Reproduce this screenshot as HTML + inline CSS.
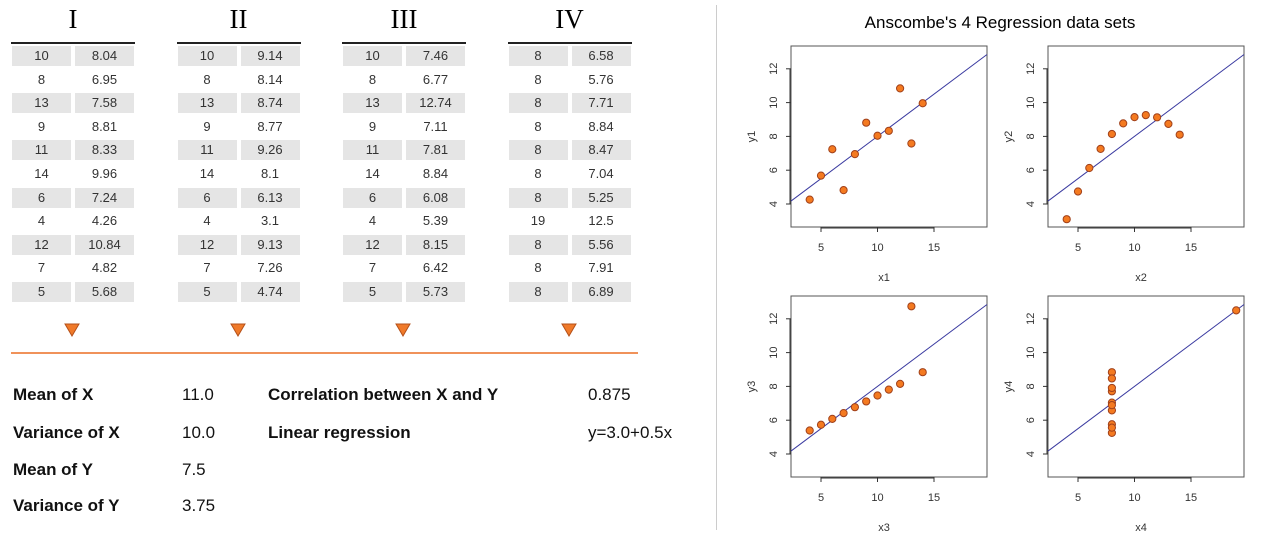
<!DOCTYPE html>
<html><head><meta charset="utf-8"><style>
body{margin:0;width:1280px;height:543px;background:#fff;position:relative;overflow:hidden;font-family:"Liberation Sans",sans-serif}
.abs{position:absolute}
.rn{font-family:"Liberation Serif",serif;font-size:27px;width:124px;text-align:center;top:4px}
.hl{height:2px;background:#222;top:42px}
.cell{height:20px;line-height:20px;font-size:13px;color:#333;text-align:center}
.st{font-size:17px;color:#111}
.b{font-weight:bold}
</style></head><body>
<div id="tables"></div>
<div class="abs" style="left:11px;top:352px;width:627px;height:2px;background:#f0925a"></div>
<div class="abs" style="left:716px;top:5px;width:1px;height:525px;background:#ccc"></div>
<div class="abs st b" style="left:13px;top:385px">Mean of X</div>
<div class="abs st" style="left:182px;top:385px">11.0</div>
<div class="abs st b" style="left:13px;top:423px">Variance of X</div>
<div class="abs st" style="left:182px;top:423px">10.0</div>
<div class="abs st b" style="left:13px;top:460px">Mean of Y</div>
<div class="abs st" style="left:182px;top:460px">7.5</div>
<div class="abs st b" style="left:13px;top:496px">Variance of Y</div>
<div class="abs st" style="left:182px;top:496px">3.75</div>
<div class="abs st b" style="left:268px;top:385px">Correlation between X and Y</div>
<div class="abs st" style="left:588px;top:385px">0.875</div>
<div class="abs st b" style="left:268px;top:423px">Linear regression</div>
<div class="abs st" style="left:588px;top:423px">y=3.0+0.5x</div>
<svg id="plots" class="abs" style="left:0;top:0" width="1280" height="543">
<text x="1000" y="28" font-size="17" text-anchor="middle" font-family="Liberation Sans, sans-serif">Anscombe's 4 Regression data sets</text>
</svg>
<script>
const x1=[10,8,13,9,11,14,6,4,12,7,5];
const y1=[8.04,6.95,7.58,8.81,8.33,9.96,7.24,4.26,10.84,4.82,5.68];
const x2=[10,8,13,9,11,14,6,4,12,7,5];
const y2=[9.14,8.14,8.74,8.77,9.26,8.1,6.13,3.1,9.13,7.26,4.74];
const x3=[10,8,13,9,11,14,6,4,12,7,5];
const y3=[7.46,6.77,12.74,7.11,7.81,8.84,6.08,5.39,8.15,6.42,5.73];
const x4=[8,8,8,8,8,8,8,19,8,8,8];
const y4=[6.58,5.76,7.71,8.84,8.47,7.04,5.25,12.5,5.56,7.91,6.89];
const setNames=["I","II","III","IV"];
const xTicks=[5,10,15];
const yTicks=[4,6,8,10,12];
const regA=3.0, regB=0.5;
const XS=[x1,x2,x3,x4], YS=[y1,y2,y3,y4];
const ystr=[["8.04","6.95","7.58","8.81","8.33","9.96","7.24","4.26","10.84","4.82","5.68"],
["9.14","8.14","8.74","8.77","9.26","8.1","6.13","3.1","9.13","7.26","4.74"],
["7.46","6.77","12.74","7.11","7.81","8.84","6.08","5.39","8.15","6.42","5.73"],
["6.58","5.76","7.71","8.84","8.47","7.04","5.25","12.5","5.56","7.91","6.89"]];
const T=document.getElementById('tables');
for(let g=0;g<4;g++){
  const gx=11+g*165.5;
  const h=document.createElement('div');h.className='abs rn';h.style.left=gx+'px';h.textContent=setNames[g];
  
  
  T.appendChild(h);
  const l=document.createElement('div');l.className='abs hl';l.style.left=gx+'px';l.style.width='124px';
  
  
  T.appendChild(l);
  for(let r=0;r<11;r++){
    const top=46+r*23.6;
    const vals=[String(XS[g][r]),ystr[g][r]];
    for(let c=0;c<2;c++){
      const d=document.createElement('div');d.className='abs cell';
      d.style.left=(gx+1+c*63)+'px';d.style.top=top+'px';d.style.width='59px';
      if(r%2==0)d.style.background='#e5e5e5';
      d.textContent=vals[c];
      
      
      T.appendChild(d);
    }
  }
  const tr=document.createElementNS('http://www.w3.org/2000/svg','svg');
  tr.setAttribute('class','abs');tr.style.left=(gx+53)+'px';tr.style.top='323px';
  tr.setAttribute('width','16');tr.setAttribute('height','14');
  tr.innerHTML='<polygon points="1,1 15,1 8,13" fill="#f07a2a" stroke="#b4501a" stroke-width="1"/>';
  
  
  T.appendChild(tr);
}
const S=document.getElementById('plots');const NS='http://www.w3.org/2000/svg';
function el(t,a,p){const e=document.createElementNS(NS,t);for(const k in a)e.setAttribute(k,a[k]);(p||S).appendChild(e);return e;}
const offs=[[0,0],[257,0],[0,250],[257,250]];
for(let p=0;p<4;p++){
  const ox=offs[p][0],oy=offs[p][1];
  const L=791+ox,R=987+ox,Tp=46+oy,B=227+oy;
  const sx=v=>821+ox+(v-5)*11.3;
  const sy=v=>204+oy-(v-4)*16.9;
  const g=el('g',{});
  el('rect',{x:L,y:Tp,width:R-L,height:B-Tp,fill:'none',stroke:'#555','stroke-width':1},g);
  el('line',{x1:sx(xTicks[0]),x2:sx(xTicks[xTicks.length-1]),y1:B+1,y2:B+1,stroke:'#333'},g);
  xTicks.forEach(t=>{el('line',{x1:sx(t),x2:sx(t),y1:B,y2:B+5,stroke:'#333'},g);
    const tx=el('text',{x:sx(t),y:B+24,'font-size':11,'text-anchor':'middle',fill:'#333'},g);tx.textContent=t;});
  el('line',{x1:L-1,x2:L-1,y1:sy(yTicks[0]),y2:sy(yTicks[yTicks.length-1]),stroke:'#333'},g);
  yTicks.forEach(t=>{el('line',{x1:L,x2:L-5,y1:sy(t),y2:sy(t),stroke:'#333'},g);
    const tx=el('text',{x:L-14,y:sy(t),'font-size':11,'text-anchor':'middle',fill:'#333',transform:`rotate(-90 ${L-14} ${sy(t)})`},g);tx.textContent=t;});
  const xl=el('text',{x:(L+R)/2-5,y:B+54,'font-size':11,'text-anchor':'middle',fill:'#333'},g);xl.textContent='x'+(p+1);
  const yl=el('text',{x:L-36,y:(Tp+B)/2,'font-size':11,'text-anchor':'middle',fill:'#333',transform:`rotate(-90 ${L-36} ${(Tp+B)/2})`},g);yl.textContent='y'+(p+1);
  const xa=(L-(821+ox))/11.3+5, xb=(R-(821+ox))/11.3+5;
  el('line',{x1:L,y1:sy(regA+regB*xa),x2:R,y2:sy(regA+regB*xb),stroke:'#3a3aa0','stroke-width':1},g);
  for(let i=0;i<XS[p].length;i++){
    const c=el('circle',{cx:sx(XS[p][i]),cy:sy(YS[p][i]),r:3.6,fill:'#f47a20',stroke:'#a0401a','stroke-width':1},g);
    
    
  }
}
</script>
</body></html>
